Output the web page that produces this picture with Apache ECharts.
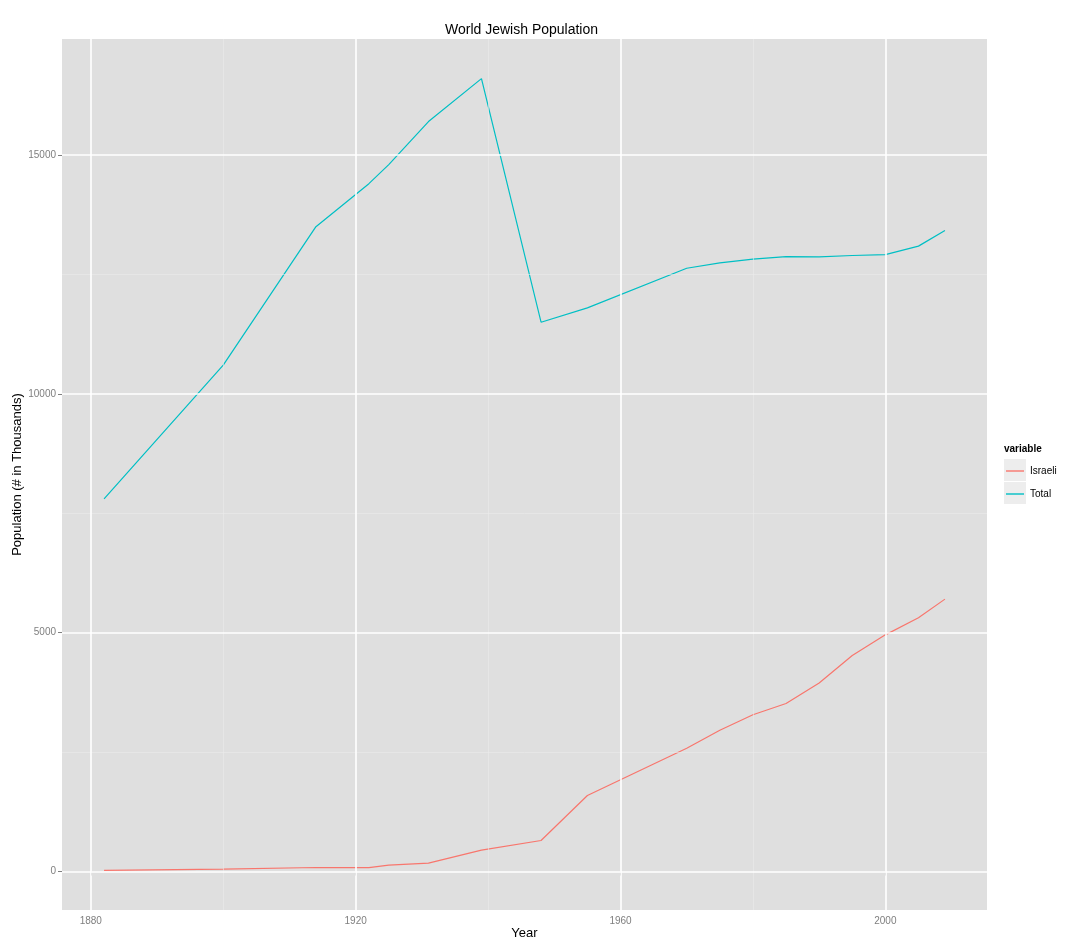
<!DOCTYPE html>
<html>
<head>
<meta charset="utf-8">
<script src="https://cdn.jsdelivr.net/npm/echarts@6/dist/echarts.min.js"></script>
<style>
    html, body { margin: 0; padding: 0; background: #fff; }
    #main { width: 1091px; height: 952px; }
</style>
</head>
<body>
<div id="main"></div>
<script>
    // data (thousands)
    var years = [1882, 1900, 1914, 1922, 1925, 1931, 1939, 1948, 1955, 1970, 1975, 1980, 1985, 1990, 1995, 2000, 2005, 2009];
    var israeli = [24, 50, 85, 84, 136, 175, 449, 650, 1591, 2582, 2959, 3283, 3517, 3947, 4522, 4955, 5314, 5703];
    var total = [7800, 10600, 13500, 14400, 14800, 15700, 16600, 11500, 11800, 12630, 12742, 12819, 12871, 12868, 12897, 12914, 13093, 13421];
    var xTicks = [1880, 1920, 1960, 2000];
    var xMinor = [1900, 1940, 1980];
    var yTicks = [0, 5000, 10000, 15000];
    var yMinor = [2500, 7500, 12500];

    function pairs(ys) {
        return years.map(function (y, i) { return [y, ys[i]]; });
    }

    // ggplot style expansion (5%)
    var xMin = 1882 - 127 * 0.05, xMax = 2009 + 127 * 0.05;
    var yMin = 24 - 16576 * 0.05, yMax = 16600 + 16576 * 0.05;

    var gridLines = [];
    xMinor.forEach(function (v) { gridLines.push({ xAxis: v, lineStyle: { color: '#EBEBEB', width: 0.6, type: 'solid' } }); });
    yMinor.forEach(function (v) { gridLines.push({ yAxis: v, lineStyle: { color: '#EBEBEB', width: 0.6, type: 'solid' } }); });
    xTicks.forEach(function (v) { gridLines.push({ xAxis: v, lineStyle: { color: '#FFFFFF', width: 1.6, type: 'solid' } }); });
    yTicks.forEach(function (v) { gridLines.push({ yAxis: v, lineStyle: { color: '#FFFFFF', width: 1.6, type: 'solid' } }); });

    var labelStyle = { margin: 6, color: '#7F7F7F', fontSize: 10, fontFamily: 'Liberation Sans', formatter: function (v) { return String(v); } };

    var chart = echarts.init(document.getElementById('main'));
    var option = {
        animation: false,
        title: {
            text: 'World Jewish Population',
            left: 445, top: 23, padding: 0,
            textStyle: { fontFamily: 'Liberation Sans', fontWeight: 'normal', fontSize: 14, color: '#000' }
        },
        grid: {
            left: 62, top: 39, right: 104, bottom: 42, show: true, backgroundColor: '#DFDFDF', borderWidth: 0,
            containLabel: false, outerBoundsMode: 'none'
        },
        graphic: [
            { type: 'text', left: 1004, top: 444, style: { text: 'variable', font: 'bold 10px "Liberation Sans"', fill: '#000' } },
            { type: 'rect', shape: { x: 1004, y: 459, width: 22, height: 22 }, style: { fill: '#EDEDED' }, z: 0 },
            { type: 'rect', shape: { x: 1004, y: 482, width: 22, height: 22 }, style: { fill: '#EDEDED' }, z: 0 }
        ],
        legend: {
            orient: 'vertical', left: 1006, top: 465, padding: 0,
            itemWidth: 18, itemHeight: 1.4, itemGap: 11, icon: 'rect',
            data: ['Israeli', 'Total'],
            textStyle: { fontFamily: 'Liberation Sans', fontSize: 10, color: '#000', lineHeight: 12, padding: [0, 0, 0, 1] }
        },
        xAxis: {
            type: 'value', min: xMin, max: xMax,
            name: 'Year', nameLocation: 'middle', nameGap: 17, nameMoveOverlap: false,
            nameTextStyle: { fontFamily: 'Liberation Sans', fontSize: 13, color: '#000' },
            axisLine: { show: false },
            axisTick: { show: true, length: 4, customValues: xTicks, lineStyle: { color: '#7F7F7F', width: 1 } },
            axisLabel: Object.assign({ customValues: xTicks }, labelStyle),
            splitLine: { show: false }
        },
        yAxis: {
            type: 'value', min: yMin, max: yMax,
            name: 'Population (# in Thousands)', nameLocation: 'middle', nameGap: 38, nameRotate: 90, nameMoveOverlap: false,
            nameTextStyle: { fontFamily: 'Liberation Sans', fontSize: 13, color: '#000' },
            axisLine: { show: false },
            axisTick: { show: true, length: 4, customValues: yTicks, lineStyle: { color: '#7F7F7F', width: 1 } },
            axisLabel: Object.assign({ customValues: yTicks }, labelStyle),
            splitLine: { show: false }
        },
        series: [
            {
                name: 'grid', type: 'line', data: pairs(total), z: 1,
                symbol: 'none', lineStyle: { opacity: 0 }, silent: true,
                markLine: { silent: true, symbol: ['none', 'none'], label: { show: false }, animation: false, data: gridLines }
            },
            {
                name: 'Israeli', type: 'line', data: pairs(israeli), z: 3,
                symbol: 'none', color: '#F8766D', lineStyle: { width: 1.2, color: '#F8766D' }
            },
            {
                name: 'Total', type: 'line', data: pairs(total), z: 3,
                symbol: 'none', color: '#00BFC4', lineStyle: { width: 1.2, color: '#00BFC4' }
            }
        ]
    };
    chart.setOption(option);
</script>
</body>
</html>
